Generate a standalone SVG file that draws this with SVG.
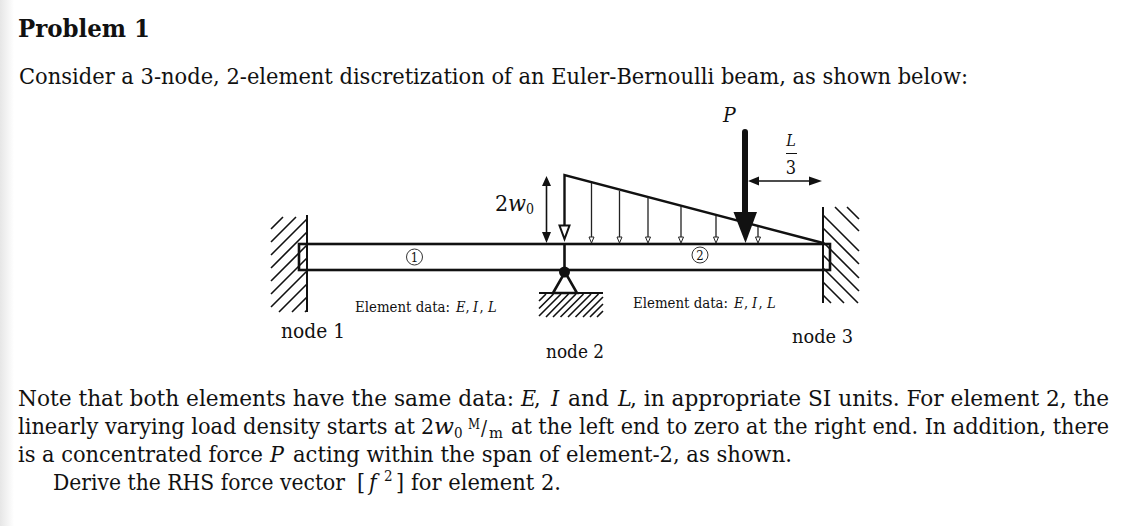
<svg xmlns="http://www.w3.org/2000/svg" width="1132" height="526" viewBox="0 0 1132 526">
<defs>
<linearGradient id="edge" x1="0" y1="0" x2="1" y2="0">
<stop offset="0" stop-color="#e6e6e6"/>
<stop offset="1" stop-color="#ffffff"/>
</linearGradient>
</defs>
<style>
text{font-family:"DejaVu Serif Condensed","DejaVu Serif","Liberation Serif",serif;fill:#111}
.b{font-size:25px}
.t{font-size:23px}
.s{font-size:14.5px}
.u{font-size:15px}
.i{font-style:italic}
.h{stroke:#111;stroke-width:1.6;fill:none}
.l{stroke:#111;fill:none}
.sa{stroke:#222;stroke-width:1.3}
.sh{fill:#fff;stroke:#222;stroke-width:1}
.c{fill:none;stroke:#333;stroke-width:1}
</style>
<rect width="1132" height="526" fill="#fff"/>
<rect width="14" height="526" fill="url(#edge)"/>
<g id="heading">
<text class="b" x="18" y="37" font-weight="bold" textLength="132" lengthAdjust="spacingAndGlyphs">Problem 1</text>
<text class="t" x="19" y="84" textLength="949" lengthAdjust="spacingAndGlyphs">Consider a 3-node, 2-element discretization of an Euler-Bernoulli beam, as shown below:</text>
</g>
<g id="wall-1">
<path class="h" d="M271 229L283 217M271 242L296 217M271 255L307 219M271 268L307 232M271 281L307 245M271 294L307 258M271 307L307 271M279 312L307 284M292 312L307 297M305 312L307 310"/>
<path class="l" stroke-width="2" d="M307 215V312"/>
</g>
<g id="wall-3">
<path class="h" d="M835 207L859 231M847 207L859 219M823 215L859 251M823 228L859 264M823 242L859 278M823 255L859 291M823 268L858 303M823 282L844 303M823 295L831 303"/>
<path class="l" stroke-width="2" d="M823 207V303"/>
</g>
<g id="ground">
<path class="h" d="M546 294L539 301M553.500 294L539 308.500M561 294L539 316M568.500 294L546 317M576 294L553 317M583.500 294L560.500 317M591 294L568 317M598.500 294L575.500 317M603 297L583 317M603 304L590 317M603 311L597 317"/>
<path class="l" stroke-width="2" d="M539 293H603"/>
</g>
<g id="beam">
<rect x="299" y="244" width="531" height="26" fill="none" stroke="#111" stroke-width="2.600"/>
</g>
<g id="element-1-label">
<circle class="c" cx="414.500" cy="257" r="8"/>
<text x="414.500" y="262" font-size="13" text-anchor="middle">1</text>
<text class="s" x="355" y="312" textLength="95" lengthAdjust="spacingAndGlyphs">Element data:</text>
<text class="s i" x="456" y="312">E</text><text class="s" x="465.500" y="312">,</text>
<text class="s i" x="473" y="312">I</text><text class="s" x="479.500" y="312">,</text>
<text class="s i" x="488" y="312">L</text>
</g>
<g id="element-2-label">
<circle class="c" cx="700" cy="255" r="8"/>
<text x="700" y="260" font-size="13" text-anchor="middle">2</text>
<text class="s" x="633" y="308" textLength="95" lengthAdjust="spacingAndGlyphs">Element data:</text>
<text class="s i" x="734" y="308">E</text><text class="s" x="744" y="308">,</text>
<text class="s i" x="752" y="308">I</text><text class="s" x="758.500" y="308">,</text>
<text class="s i" x="767" y="308">L</text>
</g>
<g id="node-1"><text x="281" y="338" font-size="20" textLength="64" lengthAdjust="spacingAndGlyphs">node 1</text></g>
<g id="node-2">
<path d="M553 293L565 272L577 293Z" fill="none" stroke="#111" stroke-width="2.600"/>
<path class="l" stroke-width="2.600" d="M564.500 244V272"/>
<circle cx="564.500" cy="272" r="5.500" fill="#111"/>
<text x="546" y="358" font-size="18.500" textLength="58" lengthAdjust="spacingAndGlyphs">node 2</text>
</g>
<g id="node-3"><text x="792" y="343" font-size="18.500" textLength="61" lengthAdjust="spacingAndGlyphs">node 3</text></g>
<g id="connectors">
<path class="l" stroke-width="2.400" d="M564.500 226V175L823 243"/>
<path d="M559.500 225.500H569.500L564.500 239Z" fill="#fff" stroke="#111" stroke-width="2"/>
<path class="sa" d="M591.500 183V238M619.500 191V238M648 197V238M681 206V238M716 216V238M758 227V238"/>
<path class="sh" d="M589 237H594L591.500 243ZM617 237H622L619.500 243ZM645.500 237H650.500L648 243ZM678.500 237H683.500L681 243ZM713.500 237H718.500L716 243ZM755.500 237H760.500L758 243Z"/>
<path class="l" stroke-width="1.600" d="M546.500 185V234"/>
<path d="M546.500 176L551 186H542ZM546.500 243L542 232H551Z" fill="#111"/>
<path class="l" stroke-width="6" stroke-linecap="round" d="M745 132V215"/>
<path d="M733.500 212H757L745.500 243Z" fill="#111"/>
<path class="l" stroke-width="1.600" d="M755 181H812"/>
<path d="M748 181L759 176.500V185.500ZM822 181L809 176.500V185.500Z" fill="#111"/>
</g>
<g id="load-labels">
<text x="495" y="211" font-size="23">2</text>
<text class="i" x="508" y="211" font-size="23" textLength="18" lengthAdjust="spacingAndGlyphs">w</text>
<text x="526" y="214" font-size="14">0</text>
<text class="i" x="723" y="122" font-size="21">P</text>
<text class="i" x="791" y="146" font-size="16" text-anchor="middle">L</text>
<path class="l" stroke-width="1" d="M786 153.500H797"/>
<text x="791" y="174" font-size="18" text-anchor="middle">3</text>
</g>
<g id="note">
<text class="t" x="18" y="406" textLength="496" lengthAdjust="spacingAndGlyphs">Note that both elements have the same data:</text>
<text class="t i" x="521" y="406">E</text><text class="t" x="534" y="406">,</text>
<text class="t i" x="551" y="406">I</text>
<text class="t" x="568" y="406" textLength="41" lengthAdjust="spacingAndGlyphs">and</text>
<text class="t i" x="618" y="406">L</text>
<text class="t" x="630" y="406" textLength="479" lengthAdjust="spacingAndGlyphs">, in appropriate SI units. For element 2, the</text>
<text class="t" x="18" y="434" textLength="397" lengthAdjust="spacingAndGlyphs">linearly varying load density starts at</text>
<text class="t" x="421" y="434">2</text>
<text class="t i" x="434" y="434" textLength="20" lengthAdjust="spacingAndGlyphs">w</text>
<text class="u" x="454" y="438">0</text>
<text class="u" x="468" y="429" textLength="12" lengthAdjust="spacingAndGlyphs">M</text>
<text x="481" y="435" font-size="20">/</text>
<text class="u" x="489" y="438" textLength="14" lengthAdjust="spacingAndGlyphs">m</text>
<text class="t" x="511" y="434" textLength="598" lengthAdjust="spacingAndGlyphs">at the left end to zero at the right end. In addition, there</text>
<text class="t" x="18" y="462" textLength="245" lengthAdjust="spacingAndGlyphs">is a concentrated force</text>
<text class="t i" x="270" y="462">P</text>
<text class="t" x="293" y="462" textLength="499" lengthAdjust="spacingAndGlyphs">acting within the span of element-2, as shown.</text>
<text class="t" x="53" y="490" textLength="292" lengthAdjust="spacingAndGlyphs">Derive the RHS force vector</text>
<text class="t" x="357" y="490">[</text>
<text class="t i" x="369" y="490">f</text>
<text class="u" x="384" y="481">2</text>
<text class="t" x="396" y="490">]</text>
<text class="t" x="411" y="490" textLength="150" lengthAdjust="spacingAndGlyphs">for element 2.</text>
</g>
</svg>
